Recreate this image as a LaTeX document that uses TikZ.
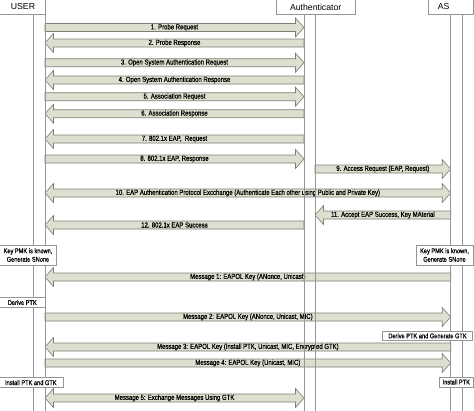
\documentclass[tikz,border=0pt]{standalone}
\usepackage{fontspec}
\setmainfont{Liberation Sans}
\newfontfamily\narrowfont[FakeStretch=0.82,FakeBold=0.6]{Liberation Sans}
\usetikzlibrary{calc}
\definecolor{arrfill}{RGB}{221,223,207}
\definecolor{arrline}{RGB}{125,125,118}
\definecolor{lifecol}{RGB}{150,150,150}
\tikzset{
  blk/.style={draw=arrline, fill=arrfill, line width=0.6pt, line join=miter},
  lbl/.style={font=\narrowfont\fontsize{7.3}{8}\selectfont, inner sep=0pt, text=black},
  hdr/.style={font=\fontsize{8.7}{10}\selectfont, inner sep=0pt},
  hdrbox/.style={draw=lifecol, fill=white, line width=0.6pt},
  notebox/.style={draw=lifecol, fill=white, line width=0.6pt},
  notetxt/.style={font=\narrowfont\fontsize{6.9}{8.5}\selectfont, align=center, inner sep=0pt},
  lline/.style={draw=lifecol, line width=0.6pt}
}
% arrow pointing right: name, y, x-start, x-tip, text
\newcommand\ArrR[5]{%
  \coordinate (#1s) at (#3,#2); \coordinate (#1e) at (#4,#2);
  \path[blk] let \p1=(#1s), \p2=(#1e) in
    (\x1,\y1+4pt) -- (\x2-8.5pt,\y1+4pt) -- (\x2-8.5pt,\y1+9.5pt) -- (\x2,\y1)
    -- (\x2-8.5pt,\y1-9.5pt) -- (\x2-8.5pt,\y1-4pt) -- (\x1,\y1-4pt) -- cycle;
  \node[lbl] (#1) at ($(#1s)!0.5!(#1e)$) {#5};}
% arrow pointing left: name, y, x-start (right), x-tip (left), text
\newcommand\ArrL[5]{%
  \coordinate (#1s) at (#3,#2); \coordinate (#1e) at (#4,#2);
  \path[blk] let \p1=(#1s), \p2=(#1e) in
    (\x1,\y1+4pt) -- (\x2+8.5pt,\y1+4pt) -- (\x2+8.5pt,\y1+9.5pt) -- (\x2,\y1)
    -- (\x2+8.5pt,\y1-9.5pt) -- (\x2+8.5pt,\y1-4pt) -- (\x1,\y1-4pt) -- cycle;
  \node[lbl] (#1) at ($(#1s)!0.5!(#1e)$) {#5};}
% double arrow: name, y, x-left tip, x-right tip, text
\newcommand\ArrD[5]{%
  \coordinate (#1s) at (#3,#2); \coordinate (#1e) at (#4,#2);
  \path[blk] let \p1=(#1s), \p2=(#1e) in
    (\x1,\y1) -- (\x1+8.5pt,\y1+9.5pt) -- (\x1+8.5pt,\y1+4pt) -- (\x2-8.5pt,\y1+4pt)
    -- (\x2-8.5pt,\y1+9.5pt) -- (\x2,\y1) -- (\x2-8.5pt,\y1-9.5pt) -- (\x2-8.5pt,\y1-4pt)
    -- (\x1+8.5pt,\y1-4pt) -- (\x1+8.5pt,\y1-9.5pt) -- cycle;
  \node[lbl] (#1) at ($(#1s)!0.5!(#1e)$) {#5};}
\def\Ux{45}
\def\Al{304}
\def\Ar{315}
\def\Sl{450.7}
\begin{document}
\begin{tikzpicture}[x=1pt, y=-1pt]
\useasboundingbox (0,0) rectangle (474,410);
\clip (0,0) rectangle (474,410);
\fill[white] (0,0) rectangle (474,410);

% headers
\draw[hdrbox] (-2,-2) rectangle (45,14);
\node[hdr] (user) at (23,7) {USER};
\draw[hdrbox] (276,-2) rectangle (355,14);
\node[hdr] (auth) at (315.7,7.3) {Authenticator};
\draw[hdrbox] (428.3,-2) rectangle (473.3,14);
\node[hdr] (as) at (443.7,7) {AS};

% messages
\ArrR{m1}{27.5}{\Ux}{\Al}{1. Probe Request}
\ArrL{m2}{43}{\Al}{\Ux}{2. Probe Response}
\ArrR{m3}{62.7}{\Ux}{\Al}{3. Open System Authentication Request}
\ArrL{m4}{80}{\Al}{\Ux}{4. Open System Authentication Response}
\ArrR{m5}{96.7}{\Ux}{\Al}{5. Association Request}
\ArrL{m6}{113.7}{\Al}{\Ux}{6. Association Response}
\ArrL{m7}{139}{\Al}{\Ux}{7. 802.1x EAP,\ \ Request}
\ArrR{m8}{159}{\Ux}{\Al}{8. 802.1x EAP, Response}
\ArrR{m9}{169}{\Ar}{\Sl}{9. Access Request (EAP, Request)}
\ArrD{m10}{193}{\Ux}{\Sl}{10. EAP Authentication Protocol Excchange (Authenticate Each other using Public and Private Key)}
\ArrL{m11}{215}{\Sl}{\Ar}{11. Accept EAP Success, Key MAterial}
\ArrL{m12}{225}{\Al}{\Ux}{12. 802.1x EAP Success}
\ArrL{k1}{277}{\Sl}{\Ux}{Message 1: EAPOL Key (ANonce, Unicast)}
\ArrR{k2}{317}{\Ux}{\Sl}{Message 2: EAPOL Key (ANonce, Unicast, MIC)}
\ArrL{k3}{347}{\Sl}{\Ux}{Message 3: EAPOL Key (Install PTK, Unicast, MIC, Encrypted GTK)}
\ArrR{k4}{363}{\Ux}{\Sl}{Message 4: EAPOL Key (Unicast, MIC)}
\ArrD{k5}{398}{\Ux}{\Al}{Message 5: Exchange Messages Using GTK}

% lifelines
\draw[lline] (33.3,14) -- (33.3,412);
\draw[lline] (45,14) -- (45,412);
\draw[lline] (304,14) -- (304,412);
\draw[lline] (315,14) -- (315,412);
\draw[lline] (450.7,14) -- (450.7,412);
\draw[lline] (462.3,14) -- (462.3,412);

% notes
\draw[notebox] (-2,245) rectangle (56,265);
\node[notetxt] (n1) at (28,255) {Key PMK is known,\\Generate SNone};
\draw[notebox] (416.7,245) rectangle (473.3,265);
\node[notetxt] (n2) at (444.5,255) {Key PMK is known,\\Generate SNone};
\draw[notebox] (-2,297.5) rectangle (45.5,307.5);
\node[notetxt] (n3) at (22.3,302.5) {Derive PTK};
\draw[notebox] (382.5,331) rectangle (471.8,340.5);
\node[notetxt] (n4) at (427.5,335.8) {Derive PTK and Generate GTK};
\draw[notebox] (-2,377.7) rectangle (63,387.5);
\node[notetxt] (n5) at (30.8,382.6) {Install PTK and GTK};
\draw[notebox] (439.5,377) rectangle (473.3,387);
\node[notetxt] (n6) at (456.3,382) {Install PTK};
\end{tikzpicture}
\end{document}
